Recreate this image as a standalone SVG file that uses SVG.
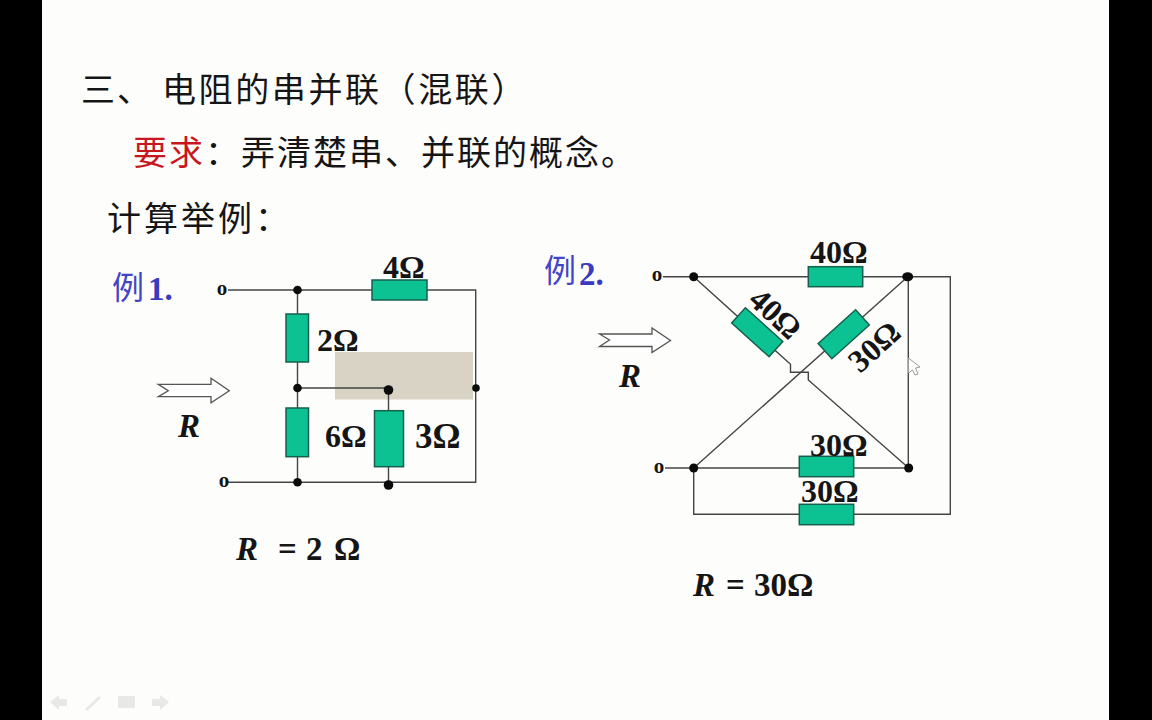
<svg xmlns="http://www.w3.org/2000/svg" width="1152" height="720" viewBox="0 0 1152 720">
<style>
.cjk{font-family:"Noto Sans CJK SC","Liberation Sans",sans-serif;font-size:34px;fill:#151515}
.lab{font-family:"Liberation Serif",serif;font-weight:700;font-size:32px;fill:#151515}
.r{font-family:"Liberation Serif",serif;font-weight:700;font-style:italic;font-size:33px;fill:#151515}
.eq{font-family:"Liberation Serif",serif;font-weight:700;font-size:33px;fill:#151515}
.term{font-family:"Liberation Serif",serif;font-weight:700;font-size:21px;fill:#151515;text-anchor:middle}
.ex{font-family:"Noto Sans CJK SC",sans-serif;font-size:32px;fill:#4444c4}
.exn{font-family:"Liberation Serif",serif;font-weight:700;font-size:33px;fill:#3a3ac0}
.res{fill:#0cc292;stroke:#14604c;stroke-width:1.5}
.wire{fill:none;stroke:#444;stroke-width:1.4}
.dot{fill:#0c0c0c}
.arrow{fill:#fff;stroke:#555;stroke-width:1.3}
.nav{fill:#e8e8e6}
</style>
<rect width="1152" height="720" fill="#000"/>
<rect x="42" y="0" width="1067" height="720" fill="#fdfdfb"/>

<g id="nav-icons">
<path class="nav" d="M50 702l9-7v4h8v7h-8v4z"/>
<path class="nav" d="M85 709l14-13 2 2-14 13z"/>
<rect class="nav" x="118" y="696" width="17" height="12"/>
<path class="nav" d="M169 702l-9-7v4h-8v7h8v4z"/>
</g>

<g id="heading">
<text class="cjk" x="81" y="102" letter-spacing="2">三、</text>
<text class="cjk" x="162" y="102" letter-spacing="2.6">电阻的串并联（混联）</text>
<text class="cjk" x="133" y="165" letter-spacing="2"><tspan fill="#c8161e">要求</tspan>：弄清楚串、并联的概念。</text>
<text class="cjk" x="107" y="231" letter-spacing="3">计算举例：</text>
</g>

<g id="example-1">
<rect id="patch" x="335" y="352" width="138" height="47.500" fill="#d8d3c5"/>
<g id="connectors-1">
<path class="wire" d="M228 290H475.700V482.300H228"/>
<path class="wire" d="M297.500 290V482.300"/>
<path class="wire" d="M297.500 388H388.500V485"/>
</g>
<g id="junctions-1">
<circle class="dot" cx="297.500" cy="290" r="4.300"/>
<circle class="dot" cx="297.500" cy="388" r="4.300"/>
<circle class="dot" cx="297.500" cy="482.300" r="4.300"/>
<circle class="dot" cx="388.500" cy="390" r="4.800"/>
<circle class="dot" cx="388.500" cy="485" r="4.800"/>
<circle class="dot" cx="476" cy="388" r="3.800"/>
</g>
<g id="r-4ohm"><rect class="res" x="372" y="280" width="55" height="20"/><text class="lab" x="383" y="278">4Ω</text></g>
<g id="r-2ohm"><rect class="res" x="286" y="314" width="22.500" height="48"/><text class="lab" x="317" y="351">2Ω</text></g>
<g id="r-6ohm"><rect class="res" x="286" y="408" width="22.500" height="48.700"/><text class="lab" x="325" y="447">6Ω</text></g>
<g id="r-3ohm"><rect class="res" x="374.500" y="410.700" width="29" height="56"/><text class="lab" x="415" y="448" font-size="35" style="font-size:35px">3Ω</text></g>
<g id="term-1a"><text class="term" x="222" y="295">o</text></g>
<g id="term-1b"><text class="term" x="224" y="487">o</text></g>
<polygon class="arrow" points="158.300,384.300 211,384.300 211,378.300 229.300,390.700 211,402.700 211,396.700 158.300,396.700 168.300,390.700"/>
<text class="r" x="178" y="437">R</text>
<text class="ex" x="112" y="299">例</text><text class="exn" x="148" y="300">1.</text>
<text class="eq" x="236" y="560"><tspan class="r">R</tspan><tspan x="278">=</tspan><tspan x="306">2</tspan><tspan x="334">Ω</tspan></text>
</g>

<g id="example-2">
<g id="connectors-2">
<path class="wire" d="M663 276.700H950.300V514.300H693.700V468"/>
<path class="wire" d="M665 468H908.700"/>
<path class="wire" d="M908.300 276.700V468"/>
<path class="wire" d="M693.700 468L907.700 276.700"/>
<path class="wire" d="M693.700 276.700L790.500 364.300V372.300H808.300V380L908.700 468"/>
</g>
<g id="junctions-2">
<circle class="dot" cx="693.700" cy="276.700" r="4.500"/>
<ellipse class="dot" cx="907.700" cy="276.700" rx="5.500" ry="4.500"/>
<circle class="dot" cx="693.700" cy="468" r="4.500"/>
<circle class="dot" cx="908.700" cy="468" r="4.500"/>
</g>
<g id="r-40ohm-top"><rect class="res" x="808.300" y="266.700" width="54.400" height="20"/><text class="lab" x="810" y="263">40Ω</text></g>
<g id="r-40ohm-diag"><rect class="res" x="732" y="322" width="50.400" height="20.500" transform="rotate(42 757.200 332.300)"/><text class="lab" transform="translate(747 302) rotate(43)">40Ω</text></g>
<g id="r-30ohm-diag"><rect class="res" x="818.500" y="324" width="50.400" height="20.500" transform="rotate(-42 843.700 334.200)"/><text class="lab" transform="translate(860 374) rotate(-42)">30Ω</text></g>
<g id="r-30ohm-mid"><rect class="res" x="799.300" y="456.300" width="54.400" height="20.400"/><text class="lab" x="810" y="456">30Ω</text></g>
<g id="r-30ohm-bot"><rect class="res" x="799.300" y="504.300" width="54.400" height="20.400"/><text class="lab" x="801" y="502">30Ω</text></g>
<g id="term-2a"><text class="term" x="657" y="281">o</text></g>
<g id="term-2b"><text class="term" x="659" y="473">o</text></g>
<polygon class="arrow" points="599.500,334 652,334 652,328 670.500,340.500 652,352.500 652,346.500 599.500,346.500 609.500,340"/>
<text class="r" x="619" y="387">R</text>
<path id="cursor" d="M908.500 358L920 367L915.500 368L918 374L915 375L912.500 370L908.500 373Z" fill="#fff" stroke="#999" stroke-width="1"/>
<text class="ex" x="544" y="282">例</text><text class="exn" x="579" y="285">2.</text>
<text class="eq" x="693" y="596"><tspan class="r">R</tspan><tspan x="726">=</tspan><tspan x="754">30Ω</tspan></text>
</g>
</svg>
